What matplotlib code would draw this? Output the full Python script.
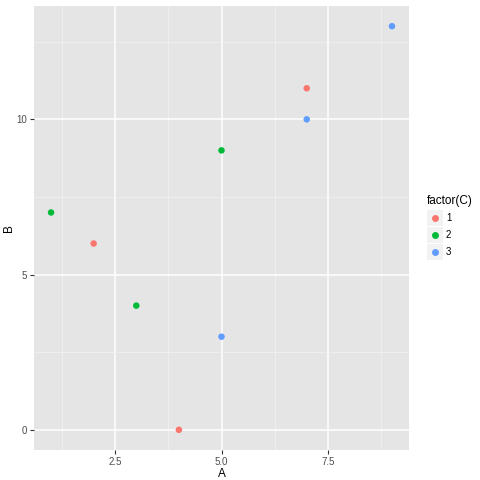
import matplotlib
matplotlib.use("Agg")
import matplotlib.pyplot as plt
from matplotlib.lines import Line2D

plt.rcParams['font.family'] = ['Liberation Sans', 'DejaVu Sans']

A = [2, 4, 7, 1, 3, 5, 5, 7, 9]
B = [6, 0, 11, 7, 4, 9, 3, 10, 13]
C = [1, 1, 1, 2, 2, 2, 3, 3, 3]
levels = [1, 2, 3]
colors = {1: "#F8766D", 2: "#00BA38", 3: "#619CFF"}
xticks = [2.5, 5.0, 7.5]
xticklabels = ["2.5", "5.0", "7.5"]
yticks = [0, 5, 10]
yticklabels = ["0", "5", "10"]

fig = plt.figure(figsize=(4.8, 4.8), dpi=100)
ax = fig.add_axes([34/480, 1 - 450/480, (409 - 34)/480, (450 - 6)/480])
ax.set_facecolor("#E5E5E5")
for s in ax.spines.values():
    s.set_visible(False)

xmin, xmax = min(A), max(A)
ymin, ymax = min(B), max(B)
xpad = (xmax - xmin) * 0.05
ypad = (ymax - ymin) * 0.05
ax.set_xlim(xmin - xpad, xmax + xpad)
ax.set_ylim(ymin - ypad, ymax + ypad)

ax.set_xticks(xticks)
ax.set_xticklabels(xticklabels)
ax.set_yticks(yticks)
ax.set_yticklabels(yticklabels)
ax.set_xticks([1.25, 3.75, 6.25, 8.75], minor=True)
ax.set_yticks([2.5, 7.5, 12.5], minor=True)
ax.grid(which="major", color="white", linewidth=1.1)
ax.grid(which="minor", color="#F2F2F2", linewidth=0.5)
ax.set_axisbelow(True)
ax.tick_params(which="major", length=3, width=0.8, color="#333333",
               labelsize=7, labelcolor="#4D4D4D", pad=2)
ax.tick_params(which="minor", length=0)

for a, b, c in zip(A, B, C):
    ax.scatter([a], [b], s=22, color=colors[c], edgecolors="none", zorder=3)

ax.set_xlabel("A", fontsize=8.5, labelpad=1)
ax.set_ylabel("B", fontsize=8.5, labelpad=1)

# legend
fig.text(427/480, 1 - 201/480, "factor(C)", fontsize=8.5, va="center", ha="left")
for i, lv in enumerate(levels):
    yc = 218 + i * 17
    rect = plt.Rectangle((427/480, 1 - (yc + 8)/480), 16/480, 16/480,
                         transform=fig.transFigure, facecolor="#F2F2F2",
                         edgecolor="none")
    fig.patches.append(rect)
    fig.add_artist(Line2D([435/480], [1 - yc/480], marker="o", markersize=5,
                          color=colors[lv], markeredgewidth=0,
                          transform=fig.transFigure))
    fig.text(446/480, 1 - yc/480, str(lv), fontsize=7, va="center", ha="left")

fig.savefig("out.png", dpi=100)
